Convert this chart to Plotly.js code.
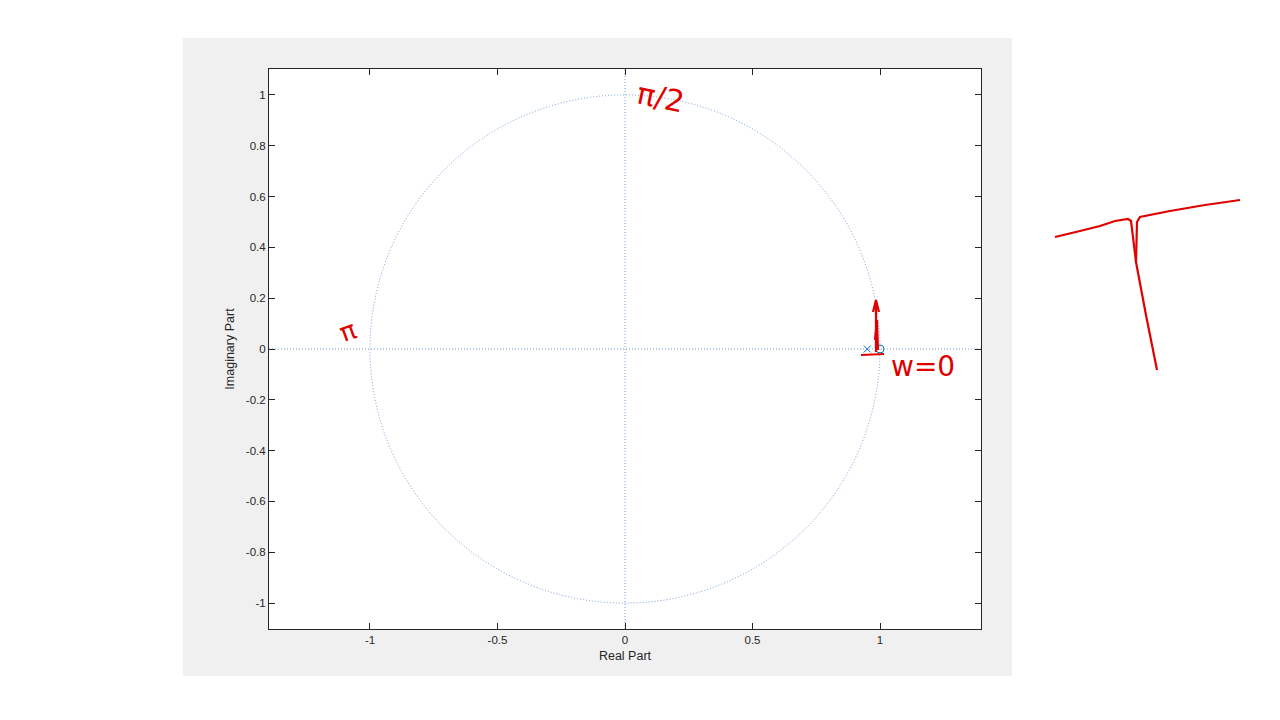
<!DOCTYPE html>
<html>
<head>
<meta charset="utf-8">
<script src="https://cdn.plot.ly/plotly-3.0.1.min.js"></script>
<style>
  html, body { margin:0; padding:0; background:#ffffff; width:1280px; height:720px; overflow:hidden; }
  #figbg { position:absolute; left:183px; top:38px; width:829px; height:638px; background:#f0f0f0; }
  #chart { position:absolute; left:0; top:0; width:1280px; height:720px; }
</style>
</head>
<body>
<div id="figbg"></div>
<div id="chart"></div>
<script>
// Data: poles and zeros of the filter
const poleReal = [0.95];
const poleImag = [0];
const zeroReal = [1];
const zeroImag = [0];
const xTicks = [-1, -0.5, 0, 0.5, 1];
const xTickLabels = ['-1', '-0.5', '0', '0.5', '1'];
const yTicks = [-1, -0.8, -0.6, -0.4, -0.2, 0, 0.2, 0.4, 0.6, 0.8, 1];
const yTickLabels = ['-1', '-0.8', '-0.6', '-0.4', '-0.2', '0', '0.2', '0.4', '0.6', '0.8', '1'];

// plot area in pixels (for converting hand-drawn overlay strokes to paper coords)
const PL = 269, PR = 981, PT = 69, PB = 629;
function px(x){ return ((x - PL) / (PR - PL)).toFixed(4); }
function py(y){ return ((PB - y) / (PB - PT)).toFixed(4); }
function strokePath(pts){
  return pts.map((p,i)=> (i? 'L':'M') + px(p[0]) + ',' + py(p[1])).join(' ');
}

const blue = '#0072BD';
const dotLine = {color: '#6f9dd6', width: 1, dash: '1px,2px'};
const red = '#e00000';

const traces = [
  { x: poleReal, y: poleImag, mode: 'markers', type: 'scatter', name: 'poles',
    marker: {symbol: 'x-thin-open', size: 7, line: {color: blue, width: 1}, color: blue}, hoverinfo:'x+y' },
  { x: zeroReal, y: zeroImag, mode: 'markers', type: 'scatter', name: 'zeros',
    marker: {symbol: 'circle-open', size: 8, line: {color: blue, width: 1}, color: blue}, hoverinfo:'x+y' }
];

const redStrokes = [
  // arrow near w = 0
  [[876,352],[876,302]],
  [[873,312],[876,300],[879,312]],
  [[878,350],[877,320],[875,340]],
  [[861,355],[884,354]],
  // T drawing at right
  [[1055,237],[1080,231],[1100,226],[1115,221],[1128,219],[1131,221],[1136,262],[1146,315],[1157,370]],
  [[1136,262],[1137,222],[1140,217],[1170,211],[1205,205],[1240,200]]
];

const shapes = [
  {type:'circle', xref:'x', yref:'y', x0:-1, y0:-1, x1:1, y1:1, line: dotLine, layer:'below'},
  {type:'line', xref:'x', yref:'paper', x0:0, x1:0, y0:0, y1:1, line: dotLine, layer:'below'},
  {type:'line', xref:'paper', yref:'y', x0:0, x1:1, y0:0, y1:0, line: dotLine, layer:'below'}
];
redStrokes.forEach(s => shapes.push({type:'path', xref:'paper', yref:'paper', path: strokePath(s),
  line:{color: red, width: 2.2}}));

const hand = {family: '"Comic Sans MS", "DejaVu Sans", sans-serif', color: red};
const annotations = [
  {x: 0.14, y: 0.99, xref:'x', yref:'y', text: 'π/2', showarrow:false, textangle: 12,
   font: Object.assign({size: 30}, hand)},
  {x: -1.085, y: 0.07, xref:'x', yref:'y', text: 'π', showarrow:false, textangle: -20,
   font: Object.assign({size: 26}, hand)},
  {x: 1.17, y: -0.07, xref:'x', yref:'y', text: 'w=0', showarrow:false, textangle: 0,
   font: Object.assign({size: 28}, hand)}
];

const axisCommon = {
  showgrid: false, zeroline: false, showline: true, mirror: 'ticks',
  linecolor: '#262626', linewidth: 1, ticks: 'inside', ticklen: 6, tickwidth: 1, tickcolor: '#262626',
  tickfont: {family: '"Liberation Sans", Arial, sans-serif', size: 11.5, color: '#262626'},
  tickmode: 'array'
};

const layout = {
  width: 1280, height: 720,
  margin: {l: PL, r: 1280 - PR, t: PT, b: 720 - PB, pad: 0},
  paper_bgcolor: 'rgba(0,0,0,0)', plot_bgcolor: '#ffffff',
  showlegend: false,
  xaxis: Object.assign({}, axisCommon, {
    range: [-1.396, 1.396], tickvals: xTicks, ticktext: xTickLabels,
    title: {text: 'Real Part', standoff: 6, font: {family: '"Liberation Sans", Arial, sans-serif', size: 12.5, color: '#262626'}}
  }),
  yaxis: Object.assign({}, axisCommon, {
    range: [-1.102, 1.102], tickvals: yTicks, ticktext: yTickLabels,
    title: {text: 'Imaginary Part', standoff: 8, font: {family: '"Liberation Sans", Arial, sans-serif', size: 12.5, color: '#262626'}}
  }),
  shapes: shapes,
  annotations: annotations
};

Plotly.newPlot('chart', traces, layout, {staticPlot: true, displayModeBar: false});
</script>
</body>
</html>
